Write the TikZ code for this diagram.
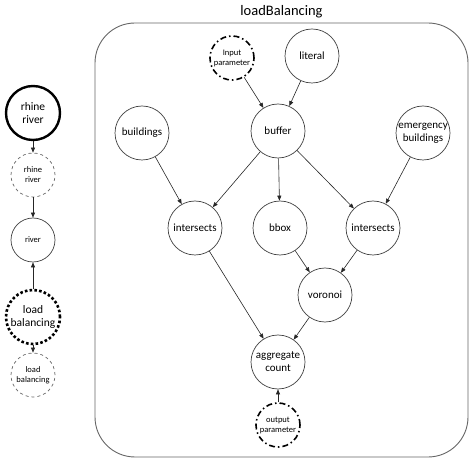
\documentclass[tikz,border=0pt]{standalone}
\usepackage{fontspec}
\setmainfont{Carlito}
\usetikzlibrary{arrows.meta,positioning}
\tikzset{
    op-node/.style = {draw=black!75, circle, line width=0.7pt, minimum size=54pt, inner sep=0pt, align=center, font=\fontsize{11}{13}\selectfont},
    small-node/.style = {op-node, minimum size=44pt, font=\fontsize{8.5}{10}\selectfont},
    param-node/.style = {small-node, draw=black, line width=1.6pt, dash pattern=on 6pt off 3pt on 1.5pt off 3pt},
    ref-node/.style = {small-node, draw=black!60, dashed},
    flow/.style = {-{Triangle[length=5pt,width=4pt]}, draw=black!85, line width=0.6pt},
    container/.style = {draw=black!60, line width=0.9pt, rectangle, rounded corners=40pt, minimum width=373pt, minimum height=434pt},
    container-title/.style = {font=\fontsize{14.5}{16}\selectfont},
}
\begin{document}
\begin{tikzpicture}[x=1pt, y=-1pt]
\useasboundingbox (0,0) rectangle (474,462);
% workflow box
\node [container] (box) at (281.5,240) {};
\node [container-title, above=1pt] at (box.north) {loadBalancing};

% inside the workflow
\node [param-node] (input) at (232,58) {Input\\parameter};
\node [op-node] (literal) at (312,56) {literal};
\node [op-node] (buildings) at (142,133) {buildings};
\node [op-node] (buffer) at (278,131) {buffer};
\node [op-node] (emergency) at (423,133) {emergency\\buildings};
\node [op-node] (intersectsL) at (195,228) {intersects};
\node [op-node] (bbox) at (280,228) {bbox};
\node [op-node] (intersectsR) at (373,228) {intersects};
\node [op-node] (voronoi) at (325,295) {voronoi};
\node [op-node] (aggregate) at (278,362) {aggregate\\count};
\node [param-node] (output) at (278,425) {output\\parameter};

\draw [flow] (input) -- (buffer);
\draw [flow] (literal) -- (buffer);
\draw [flow] (buildings) -- (intersectsL);
\draw [flow] (buffer) -- (intersectsL);
\draw [flow] (buffer) -- (bbox);
\draw [flow] (buffer) -- (intersectsR);
\draw [flow] (emergency) -- (intersectsR);
\draw [flow] (intersectsL) -- (aggregate);
\draw [flow] (bbox) -- (voronoi);
\draw [flow] (intersectsR) -- (voronoi);
\draw [flow] (voronoi) -- (aggregate);
\draw [flow] (output) -- (aggregate);

% left column
\node [op-node, draw=black, line width=2.4pt, font=\fontsize{11.5}{13.5}\selectfont] (rhine) at (33,113) {rhine\\river};
\node [ref-node] (rhineRef) at (33,175) {rhine\\river};
\node [small-node] (river) at (33,240) {river};
\node [op-node, draw=black, line width=2.6pt, dash pattern=on 2.6pt off 2.2pt, font=\fontsize{11.5}{13.5}\selectfont] (load) at (33,317) {load\\balancing};
\node [ref-node] (loadRef) at (33,375) {load\\balancing};

\draw [flow] (rhine) -- (rhineRef);
\draw [flow] (rhineRef) -- (river);
\draw [flow] (load) -- (river);
\draw [flow] (load) -- (loadRef);
\end{tikzpicture}
\end{document}
